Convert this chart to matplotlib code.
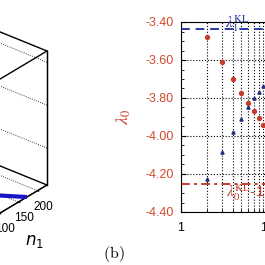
import matplotlib
matplotlib.use("Agg")
import matplotlib.pyplot as plt
import matplotlib.ticker as ticker
from mpl_toolkits.mplot3d import proj3d

plt.rcParams['font.family'] = ['Liberation Sans', 'DejaVu Sans']
plt.rcParams['axes.unicode_minus'] = False
plt.rcParams['mathtext.fontset'] = 'stix'

# panel (b): eigenvalues against order (log axis)
ORDER = [2, 3, 4, 5, 6, 7, 8, 9]
LAMBDA0 = [-3.479, -3.610, -3.700, -3.773, -3.826, -3.868, -3.904, -3.940]
LAMBDA1 = [-4.228, -4.082, -3.980, -3.909, -3.849, -3.800, -3.770, -3.735]
LAMBDA1_KL = -3.437
LAMBDA0_KL_M1 = -4.253
Y_TICKS = [-4.40, -4.20, -4.00, -3.80, -3.60, -3.40]

# panel (a): only the right corner of the 3D box is in view
N0_LIM = (0, 220)
N1_LIM = (0, 225)
Z_LIM = (-0.86, 2.26)
N0_TICKS = [0, 50, 100]
N1_TICKS = [100, 150, 200]
Z_TICKS = [0, 1, 2]
PATH_N0 = [140, 180, 220]
PATH_N1 = [120, 146, 172]
PATH_Z = [-0.86, -0.86, -0.86]

RED = '#c63c2a'
RED_TXT = '#d24a2c'
BLUE = '#2a3aa8'
BLUE_PT = '#23307e'

fig = plt.figure(figsize=(2.65, 2.65), dpi=100)

# ---- (a) 3D panel
ax3 = fig.add_axes([-0.8, 0.05, 1.0, 1.0], projection='3d', proj_type='ortho')
ax3.patch.set_alpha(0)
ax3.view_init(elev=29.5, azim=-50.5)
ax3.set_box_aspect((0.597 * (N0_LIM[1] - N0_LIM[0]),
                    0.597 * (N1_LIM[1] - N1_LIM[0]), 154))
ax3.set_xlim(N0_LIM)
ax3.set_ylim(N1_LIM)
ax3.set_zlim(Z_LIM)
ax3.set_xticks(N0_TICKS)
ax3.set_yticks(N1_TICKS)
ax3.set_zticks(Z_TICKS)
ax3.set_zticklabels([])
for axis in (ax3.xaxis, ax3.yaxis, ax3.zaxis):
    axis.set_pane_color((1, 1, 1, 0))
    axis._axinfo['grid'].update(color='k', linestyle=':', linewidth=0.6)
    axis._axinfo['tick']['inward_factor'] = 0.15
    axis._axinfo['tick']['outward_factor'] = 0.0
    axis.line.set_color('k')
ax3.zaxis._axinfo['tick']['inward_factor'] = 0.0
ax3.tick_params(labelsize=8.5, pad=-3)

# full box outline, corners from the limits
lims = [N0_LIM, N1_LIM, Z_LIM]
for i in range(3):
    for a in range(2):
        for b in range(2):
            p0 = [0, 0, 0]
            p1 = [0, 0, 0]
            others = [j for j in range(3) if j != i]
            p0[others[0]] = p1[others[0]] = lims[others[0]][a]
            p0[others[1]] = p1[others[1]] = lims[others[1]][b]
            p0[i], p1[i] = lims[i]
            ax3.plot([p0[0], p1[0]], [p0[1], p1[1]], [p0[2], p1[2]], color='k', lw=1.0)

ax3.plot(PATH_N0, PATH_N1, PATH_Z, color='#1616c4', lw=3.0, solid_capstyle='butt')


def corner_px(x, y, z):
    xs, ys, _ = proj3d.proj_transform(x, y, z, ax3.get_proj())
    return ax3.transData.transform((xs, ys))


# place the box so its right-hand vertical edge lands where the reference has it
for _ in range(3):
    fig.canvas.draw()
    top = corner_px(N0_LIM[1], N1_LIM[1], Z_LIM[1])
    bot = corner_px(N0_LIM[1], N1_LIM[1], Z_LIM[0])
    pos = ax3.get_position(original=True)
    cx = (pos.x0 + pos.width / 2) * 265
    cy = (pos.y0 + pos.height / 2) * 265
    k = (214 - 80) / (top[1] - bot[1])
    new_top = (cx + k * (top[0] - cx), cy + k * (top[1] - cy))
    w = pos.width * k
    ncx = cx + (47 - new_top[0])
    ncy = cy + (214 - new_top[1])
    ax3.set_position([ncx / 265 - w / 2, ncy / 265 - w / 2, w, w])

# n1 axis name sits below the visible part of its axis
fig.text(34 / 265, 1 - 241 / 265, r'$n_1$', fontsize=12, math_fontfamily='dejavusans',
         ha='center', va='center')

# ---- (b) eigenvalue panel
ax = fig.add_axes([181 / 265, 53 / 265, 172 / 265, 190 / 265])
ax.set_xscale('log')
ax.set_xlim(1, 100)
ax.set_ylim(-4.40, -3.40)
ax.set_yticks(Y_TICKS)
ax.yaxis.set_minor_locator(ticker.MultipleLocator(0.05))
ax.yaxis.set_major_formatter(ticker.FormatStrFormatter('%.2f'))
ax.xaxis.set_major_formatter(ticker.FormatStrFormatter('%g'))
ax.xaxis.set_minor_formatter(ticker.NullFormatter())
ax.tick_params(which='both', direction='in', labelsize=9)
ax.tick_params(which='major', length=3.5)
ax.tick_params(which='minor', length=2)
ax.tick_params(axis='y', labelcolor=RED_TXT, pad=5)
ax.tick_params(axis='x', pad=7)
ax.grid(True, axis='x', which='both', color='k', ls=':', lw=0.8)
ax.grid(True, axis='y', which='major', color='k', ls=':', lw=0.8)

ax.axhline(LAMBDA1_KL, color=BLUE, lw=1.4, ls=(0, (4.5, 3)))
ax.axhline(LAMBDA0_KL_M1, color=RED, lw=1.4, ls=(0, (4.5, 2.2, 1.5, 2.2)))
ax.plot(ORDER, LAMBDA0, 'o', ms=2.8, color=RED, mec=RED, zorder=4)
ax.plot(ORDER, LAMBDA1, '^', ms=2.3, color=BLUE_PT, mec=BLUE_PT, zorder=4)

ax.text(3.25, -3.431, r'$\lambda_1^{\mathrm{KL}}$', color=BLUE, fontsize=11,
        va='baseline', clip_on=False)
ax.text(3.3, -4.322, r'$\lambda_0^{\mathrm{KL}}$-1', color=RED, fontsize=11,
        va='baseline')
ax.set_ylabel(r'$\lambda_0$', color=RED, fontsize=13, labelpad=9)

fig.text(114 / 265, 1 - 254 / 265, r'$\mathrm{(b)}$', fontsize=11.5,
         math_fontfamily='cm', ha='center', va='center')

fig.savefig('out.png', dpi=100)
